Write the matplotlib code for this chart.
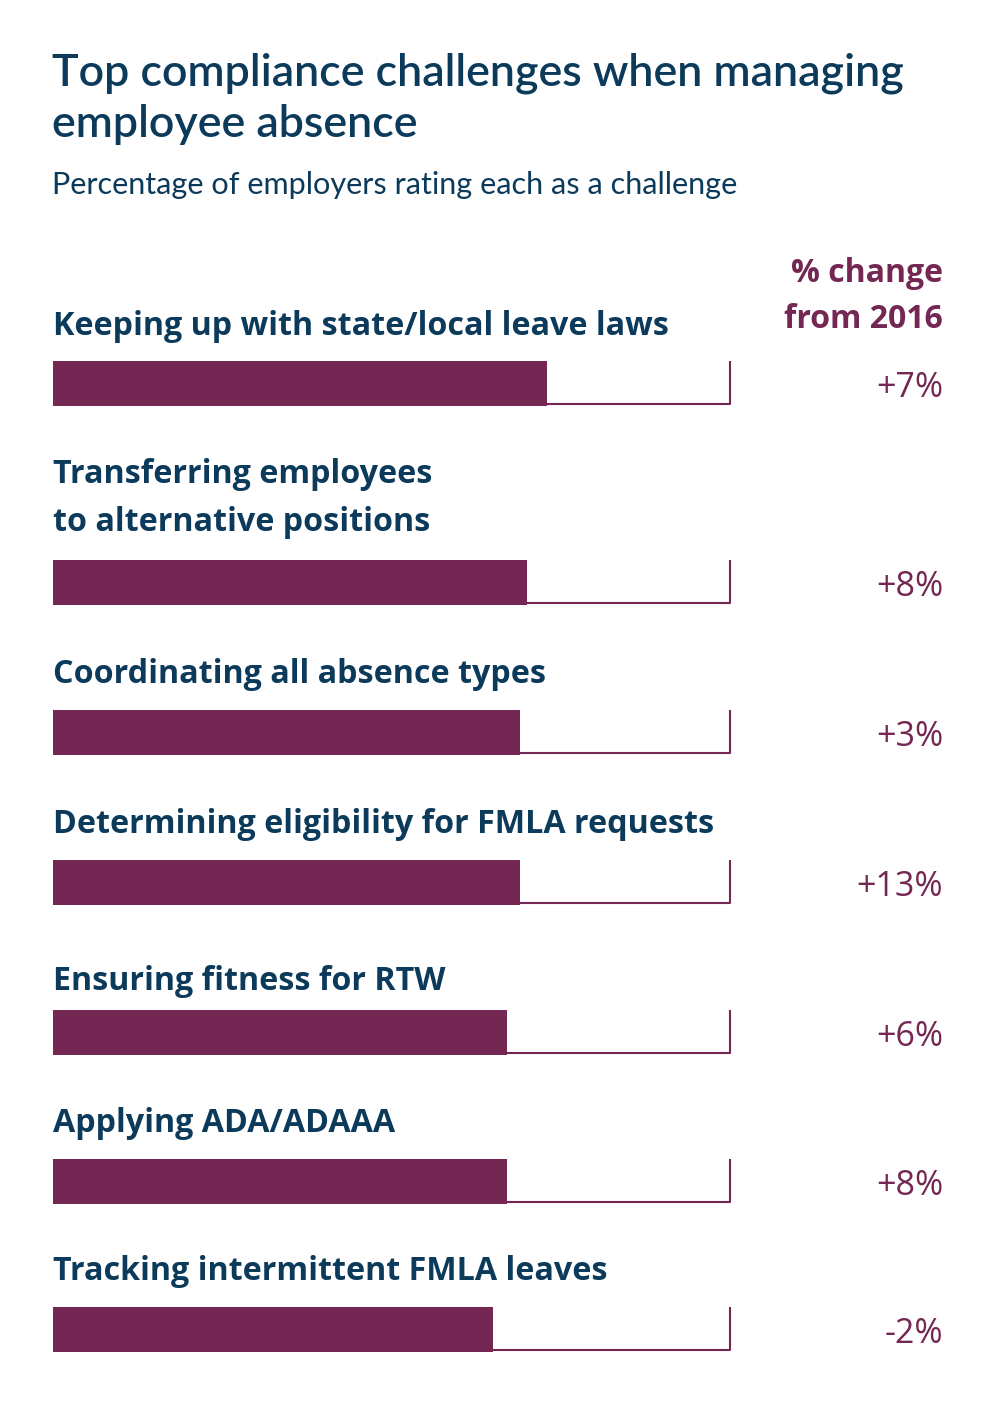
import matplotlib
matplotlib.use("Agg")
import matplotlib.pyplot as plt

categories = [
    "Keeping up with state/local leave laws",
    "Transferring employees\nto alternative positions",
    "Coordinating all absence types",
    "Determining eligibility for FMLA requests",
    "Ensuring fitness for RTW",
    "Applying ADA/ADAAA",
    "Tracking intermittent FMLA leaves",
]
values = [73, 70, 69, 69, 67, 67, 65]
changes = ["+7%", "+8%", "+3%", "+13%", "+6%", "+8%", "-2%"]

NAVY = "#0C3A5B"
PLUM = "#742752"

W, H = 1000, 1418
fig = plt.figure(figsize=(W / 100, H / 100), dpi=100)
fig.patch.set_facecolor("white")

ax = fig.add_axes([53 / W, 0, 677 / W, 1])
ax.set_xlim(0, 100)
ax.set_ylim(H, 0)
ax.axis("off")

bar_tops = [361, 560, 710, 860, 1010, 1159, 1307]
label_base = [335, 531, 683, 833, 990, 1132, 1280]
bar_h = 45

LFONT = "Open Sans"
TFONT = "Lato"

for cat, v, ch, top, lb in zip(categories, values, changes, bar_tops, label_base):
    ax.plot([100, 100, v], [top, top + bar_h - 2, top + bar_h - 2],
            color=PLUM, lw=1.5, solid_capstyle="butt", clip_on=False)
    ax.barh(top + bar_h / 2, v, height=bar_h, left=0, color=PLUM, edgecolor="none")
    lines = cat.split("\n")
    n = len(lines)
    for i, ln in enumerate(lines):
        y = lb - (n - 1 - i) * 48
        fig.text(53 / W, 1 - y / H, ln, ha="left", va="baseline",
                 fontsize=23.2, fontweight="bold", color=NAVY, family=LFONT)
    fig.text(943 / W, 1 - (top + 36) / H, ch, ha="right", va="baseline",
             fontsize=24.5, color=PLUM, family=LFONT)

fig.text(943 / W, 1 - 282 / H, "% change", ha="right", va="baseline",
         fontsize=23, fontweight="bold", color=PLUM, family=LFONT)
fig.text(943 / W, 1 - 328 / H, "from 2016", ha="right", va="baseline",
         fontsize=23, fontweight="bold", color=PLUM, family=LFONT)

fig.text(52 / W, 1 - 85 / H, "Top compliance challenges when managing",
         ha="left", va="baseline", fontsize=32.2, fontweight="semibold",
         color=NAVY, family=TFONT)
fig.text(52 / W, 1 - 137 / H, "employee absence",
         ha="left", va="baseline", fontsize=32.2, fontweight="semibold",
         color=NAVY, family=TFONT)
fig.text(52 / W, 1 - 194 / H, "Percentage of employers rating each as a challenge",
         ha="left", va="baseline", fontsize=22.1, color=NAVY, family=TFONT)

fig.savefig("out.png", dpi=100, facecolor="white")
